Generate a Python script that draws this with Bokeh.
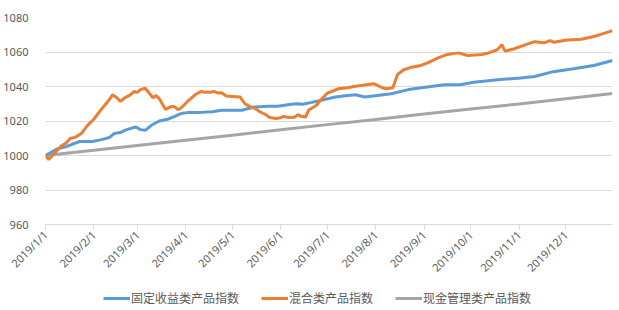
import pandas as pd
from bokeh.plotting import figure
from bokeh.layouts import column
from bokeh.models import Range1d, FixedTicker, Legend, LegendItem
from bokeh.embed import file_html
from bokeh.resources import INLINE
import math

series_names = ["固定收益类产品指数", "混合类产品指数", "现金管理类产品指数"]

fixed_dates = ["2019-01-01", "2019-01-09", "2019-01-14", "2019-01-18", "2019-01-23", "2019-01-31",
               "2019-02-06", "2019-02-11", "2019-02-14", "2019-02-18", "2019-02-22", "2019-02-28",
               "2019-03-03", "2019-03-06", "2019-03-10", "2019-03-15", "2019-03-21", "2019-03-25",
               "2019-03-29", "2019-04-03", "2019-04-11", "2019-04-18", "2019-04-24", "2019-05-07",
               "2019-05-15", "2019-05-24", "2019-05-30", "2019-06-08", "2019-06-12", "2019-06-15",
               "2019-06-21", "2019-06-27", "2019-07-06", "2019-07-14", "2019-07-19", "2019-07-25",
               "2019-08-02", "2019-08-11", "2019-08-22", "2019-09-03", "2019-09-14", "2019-09-25",
               "2019-10-03", "2019-10-20", "2019-11-02", "2019-11-11", "2019-11-23", "2019-12-06",
               "2019-12-19", "2019-12-31"]
fixed_values = [1000, 1004, 1005, 1006.5, 1008.1, 1008.1,
                1009.2, 1010.4, 1012.7, 1013.3, 1015, 1016.5,
                1015, 1014.6, 1017.5, 1020, 1021.2, 1022.7,
                1024.3, 1025, 1025, 1025.4, 1026.2, 1026.2,
                1028.1, 1028.5, 1028.5, 1029.7, 1030, 1029.7,
                1030.8, 1032, 1033.9, 1034.8, 1035.2, 1033.9,
                1034.8, 1035.8, 1038.2, 1039.7, 1041, 1041.2,
                1042.5, 1044.1, 1044.9, 1045.8, 1048.6, 1050.3,
                1052.2, 1055.1]

mixed_dates = ["2019-01-01", "2019-01-03", "2019-01-07", "2019-01-11", "2019-01-14", "2019-01-17",
               "2019-01-20", "2019-01-24", "2019-01-28", "2019-02-01", "2019-02-06", "2019-02-11",
               "2019-02-13", "2019-02-16", "2019-02-18", "2019-02-21", "2019-02-24", "2019-02-27",
               "2019-03-01", "2019-03-03", "2019-03-06", "2019-03-08", "2019-03-11", "2019-03-13",
               "2019-03-15", "2019-03-19", "2019-03-23", "2019-03-25", "2019-03-27", "2019-03-29",
               "2019-04-03", "2019-04-07", "2019-04-11", "2019-04-13", "2019-04-17", "2019-04-19",
               "2019-04-22", "2019-04-24", "2019-04-27", "2019-05-03", "2019-05-06", "2019-05-09",
               "2019-05-12", "2019-05-15", "2019-05-19", "2019-05-22", "2019-05-25", "2019-05-29",
               "2019-06-01", "2019-06-03", "2019-06-06", "2019-06-10", "2019-06-12", "2019-06-14",
               "2019-06-17", "2019-06-19", "2019-06-24", "2019-06-27", "2019-07-01", "2019-07-08",
               "2019-07-14", "2019-07-18", "2019-07-27", "2019-07-31", "2019-08-05", "2019-08-08",
               "2019-08-12", "2019-08-15", "2019-08-19", "2019-08-24", "2019-08-30", "2019-09-03",
               "2019-09-10", "2019-09-16", "2019-09-23", "2019-09-29", "2019-10-08", "2019-10-12",
               "2019-10-18", "2019-10-21", "2019-10-23", "2019-10-29", "2019-11-04", "2019-11-11",
               "2019-11-17", "2019-11-21", "2019-11-23", "2019-12-02", "2019-12-11", "2019-12-19",
               "2019-12-23", "2019-12-31"]
mixed_values = [1000, 997.7, 1001.5, 1005.5, 1007, 1010,
                1010.5, 1012.7, 1017.5, 1021, 1027, 1032.4,
                1035.2, 1033.3, 1031.4, 1033.5, 1034.8, 1037.2,
                1036.6, 1038.2, 1039, 1036.8, 1033.5, 1034.8,
                1033, 1026.8, 1028.5, 1028.2, 1026.6, 1027.5,
                1032, 1035.2, 1037.2, 1036.6, 1036.6, 1037.2,
                1036.2, 1036.4, 1034.5, 1034.1, 1033.9, 1030,
                1028.5, 1027.5, 1025.2, 1023.9, 1022, 1021.4,
                1021.9, 1022.7, 1022, 1022.2, 1023.7, 1022.7,
                1022.3, 1026.4, 1029.1, 1032.5, 1036.2, 1038.7,
                1039.3, 1040, 1041.2, 1041.6, 1039.3, 1038.7,
                1039.3, 1047, 1049.7, 1051.2, 1052.2, 1053.5,
                1056.6, 1058.6, 1059.5, 1058, 1058.6, 1059.3,
                1061.3, 1064.2, 1060.5, 1061.9, 1063.8, 1066,
                1065.3, 1066.6, 1065.7, 1067, 1067.4, 1069,
                1070.1, 1072.4]

cash_dates = ["2019-01-01", "2019-02-01", "2019-03-01", "2019-04-01", "2019-05-01", "2019-06-01",
              "2019-07-01", "2019-08-01", "2019-09-01", "2019-10-01", "2019-11-01", "2019-12-01",
              "2019-12-31"]
cash_values = [1000, 1003.0, 1005.8, 1008.9, 1011.8, 1014.9,
               1017.9, 1020.9, 1024.0, 1026.9, 1029.9, 1032.9,
               1035.9]

tick_dates = ["2019-01-01", "2019-02-01", "2019-03-01", "2019-04-01", "2019-05-01", "2019-06-01",
              "2019-07-01", "2019-08-01", "2019-09-01", "2019-10-01", "2019-11-01", "2019-12-01"]
tick_labels = ["2019/1/1", "2019/2/1", "2019/3/1", "2019/4/1", "2019/5/1", "2019/6/1",
               "2019/7/1", "2019/8/1", "2019/9/1", "2019/10/1", "2019/11/1", "2019/12/1"]
y_ticks = [960, 980, 1000, 1020, 1040, 1060, 1080]

colors = ["#5B9BD5", "#ED7D31", "#A5A5A5"]
all_dates = [fixed_dates, mixed_dates, cash_dates]
all_values = [fixed_values, mixed_values, cash_values]

def ms(s):
    return pd.Timestamp(s).value / 1e6

p = figure(width=619, height=284, x_axis_type="datetime", output_backend="svg",
           toolbar_location=None,
           x_range=Range1d(ms("2019-01-01"), ms("2019-12-31")),
           y_range=Range1d(960, 1080),
           min_border_left=43, min_border_right=7, min_border_top=17, min_border_bottom=60)
p.outline_line_color = None
p.background_fill_color = "white"
p.border_fill_color = "white"

r_cash = p.line(pd.to_datetime(cash_dates), cash_values, line_color=colors[2], line_width=3)
r_fixed = p.line(pd.to_datetime(fixed_dates), fixed_values, line_color=colors[0], line_width=3)
r_mixed = p.line(pd.to_datetime(mixed_dates), mixed_values, line_color=colors[1], line_width=3)

tick_ms = [ms(d) for d in tick_dates]
p.xaxis.ticker = FixedTicker(ticks=tick_ms)
p.xaxis.major_label_overrides = {t: l for t, l in zip(tick_ms, tick_labels)}
p.xaxis.major_label_orientation = math.pi / 4
p.xaxis.major_label_text_font = "Noto Sans"
p.xaxis.major_label_text_font_size = "11px"
p.xaxis.major_label_text_color = "#595959"
p.xaxis.axis_line_color = "#D9D9D9"
p.xaxis.major_tick_line_color = "#D9D9D9"
p.xaxis.major_tick_out = 5
p.xaxis.major_tick_in = 0
p.xaxis.minor_tick_line_color = None
p.xaxis.major_label_standoff = 3
p.xgrid.grid_line_color = None

p.yaxis.ticker = FixedTicker(ticks=y_ticks)
p.yaxis.axis_line_color = None
p.yaxis.major_tick_line_color = None
p.yaxis.minor_tick_line_color = None
p.yaxis.major_label_text_font = "Noto Sans"
p.yaxis.major_label_text_font_size = "11px"
p.yaxis.major_label_text_color = "#595959"
p.yaxis.major_label_standoff = 11
p.ygrid.grid_line_color = "#D9D9D9"
p.ygrid.grid_line_width = 1

# legend strip below the chart (its series lie outside its own ranges, so only the legend shows)
q = figure(width=619, height=26, output_backend="svg", toolbar_location=None,
           x_axis_location=None, y_axis_location=None,
           x_range=Range1d(0, 1), y_range=Range1d(0, 1),
           min_border_left=0, min_border_right=0, min_border_top=0, min_border_bottom=0)
q.outline_line_color = None
q.xgrid.grid_line_color = None
q.ygrid.grid_line_color = None
lr = [q.line(pd.to_datetime(d), v, line_color=c, line_width=3)
      for d, v, c in zip(all_dates, all_values, colors)]

legend = Legend(items=[LegendItem(label=n, renderers=[r]) for n, r in zip(series_names, lr)],
                orientation="horizontal", location=(58, 4))
legend.label_text_font = "Noto Sans CJK SC"
legend.label_text_font_size = "12px"
legend.label_text_color = "#595959"
legend.glyph_width = 27
legend.glyph_height = 14
legend.label_standoff = 1
legend.spacing = 22
legend.padding = 0
legend.margin = 0
legend.border_line_color = None
legend.background_fill_alpha = 0
q.add_layout(legend)

open("out.html", "w").write(file_html(column(p, q, spacing=0), INLINE))
